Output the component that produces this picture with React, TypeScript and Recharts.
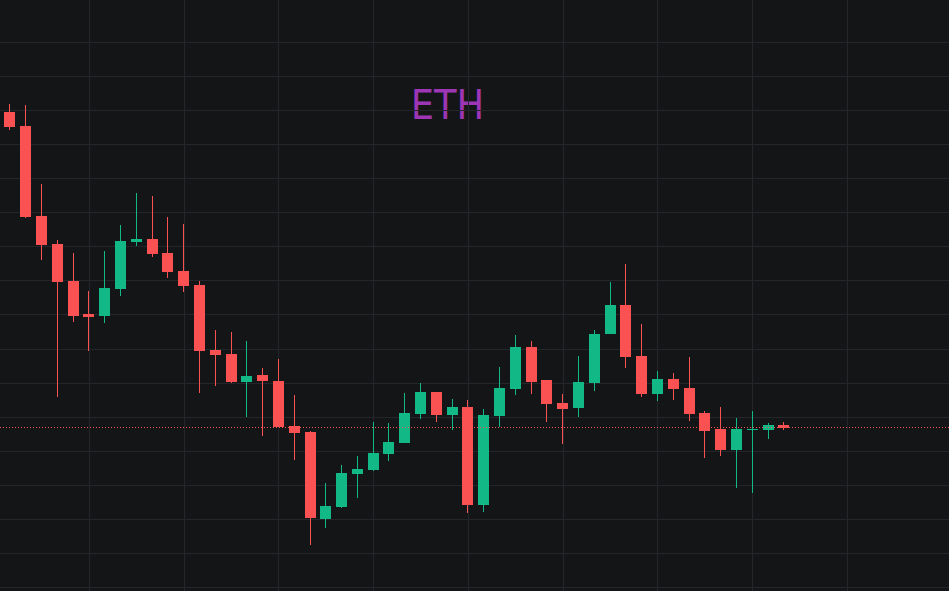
import React from 'react'
import { ComposedChart, Bar, XAxis, YAxis, CartesianGrid, ReferenceLine } from 'recharts'

// ETH daily candles (index = session)
const opens = [
    2447.8, 2427.3, 2295.2, 2254.1, 2199.8, 2151.4, 2148.9, 2188.5, 2257.5, 2261.4,
    2240.9, 2214.5, 2193.9, 2098.5, 2092.7, 2052.0, 2061.8, 2053.0, 1987.0, 1978.2,
    1851.0, 1868.6, 1917.0, 1922.9, 1946.3, 1962.5, 2005.0, 2036.9, 2003.6, 2014.9,
    1871.5, 2002.1, 2041.7, 2102.9, 2054.5, 2020.7, 2013.9, 2050.5, 2122.5, 2164.6,
    2089.7, 2034.4, 2056.0, 2042.8, 2006.1, 1982.6, 1952.2, 1982.2, 1981.6, 1988.5,
]
const highs = [
    2459.6, 2458.1, 2342.1, 2260.0, 2240.9, 2185.1, 2243.8, 2282.0, 2328.9, 2324.5,
    2293.7, 2283.4, 2199.8, 2127.9, 2124.9, 2111.7, 2072.1, 2085.3, 2032.5, 1979.7,
    1903.3, 1929.8, 1943.0, 1992.9, 1991.4, 2035.4, 2050.1, 2036.9, 2026.6, 2025.2,
    2011.9, 2073.6, 2120.5, 2111.7, 2054.5, 2034.0, 2089.7, 2127.9, 2198.3, 2224.7,
    2136.7, 2067.7, 2064.8, 2088.3, 2009.0, 2014.9, 1998.7, 2009.0, 1991.4, 1992.9,
]
const lows = [
    2421.8, 2292.7, 2231.1, 2030.0, 2140.1, 2097.5, 2138.6, 2178.2, 2251.6, 2235.5,
    2204.6, 2184.1, 2035.9, 2046.1, 2050.5, 2000.6, 1972.8, 1986.0, 1937.5, 1812.8,
    1837.7, 1867.1, 1881.8, 1921.4, 1936.1, 1962.5, 1997.7, 1993.3, 1981.6, 1859.8,
    1861.2, 1986.0, 2032.9, 2034.4, 1993.3, 1961.0, 2000.6, 2038.8, 2122.5, 2072.6,
    2030.0, 2024.1, 2025.6, 1994.8, 1940.5, 1943.4, 1896.4, 1889.1, 1968.4, 1981.6,
]
const closes = [
    2426.2, 2294.2, 2252.6, 2198.8, 2148.9, 2147.4, 2189.5, 2258.5, 2261.4, 2239.9,
    2213.4, 2192.9, 2097.5, 2091.6, 2052.0, 2060.4, 2053.5, 1986.0, 1977.2, 1852.4,
    1869.6, 1918.0, 1923.9, 1947.4, 1963.5, 2006.1, 2036.9, 2003.6, 2014.9, 1871.5,
    2003.1, 2042.8, 2102.9, 2052.0, 2019.7, 2012.4, 2051.6, 2122.0, 2164.6, 2088.7,
    2034.4, 2056.0, 2041.7, 2005.0, 1980.1, 1952.2, 1982.6, 1982.2, 1988.5, 1984.5,
]

const gridPrices = [2600, 2550, 2500, 2450, 2400, 2350, 2300, 2250, 2200, 2150, 2100, 2050, 2000, 1950, 1900, 1850, 1800, 1750]
const gridSessions = [5, 11, 17, 23, 29, 35, 41, 47, 53]

const UP = '#12b886'
const DOWN = '#fa5252'

const data = opens.map((o, i) => ({
    i,
    open: o,
    high: highs[i],
    low: lows[i],
    close: closes[i],
    range: [lows[i], highs[i]],
}))

const lastClose = closes[closes.length - 1]
const lastColor = closes[closes.length - 1] >= opens[opens.length - 1] ? UP : DOWN

function Candle(props: any) {
    const { x, y, width, height, payload } = props
    if (!payload) return null
    const { open, close, high, low } = payload
    const span = high - low
    const toY = (v: number) => (span === 0 ? y : y + ((high - v) / span) * height)
    const color = close >= open ? UP : DOWN
    const cx = x + width / 2
    const top = toY(Math.max(open, close))
    const bottom = toY(Math.min(open, close))
    const bodyH = Math.max(1, bottom - top)
    return (
        <g shapeRendering="crispEdges">
            <rect x={Math.round(cx - 0.5)} y={y} width={1} height={Math.max(1, height)} fill={color} />
            <rect x={Math.round(x)} y={top} width={Math.round(width)} height={bodyH} fill={color} />
        </g>
    )
}

export default function App() {
    return (
        <div style={{ position: 'fixed', left: 0, top: 0, width: 949, height: 591, background: '#141517' }}>
            <svg width={949} height={591} style={{ position: 'absolute', left: 0, top: 0 }}>
                <text
                    x={447.5}
                    y={118.5}
                    textAnchor="middle"
                    fill="#9c36b5"
                    fontSize={41}
                    fontFamily="'Liberation Sans Narrow', 'DejaVu Sans Condensed', sans-serif"
                >
                    ETH
                </text>
            </svg>
            <div style={{ position: 'absolute', left: 0, top: 0 }}>
                <ComposedChart width={949} height={591} data={data} margin={{ top: 0, right: 0, bottom: 0, left: 0 }}>
                    <XAxis dataKey="i" type="number" domain={[-0.652, 59.43]} allowDataOverflow hide />
                    <YAxis type="number" domain={[1744.85, 2612.18]} allowDataOverflow hide />
                    <CartesianGrid
                        stroke="#25262b"
                        shapeRendering="crispEdges"
                        horizontalValues={gridPrices}
                        verticalValues={gridSessions}
                    />
                    <Bar dataKey="range" barSize={11} shape={<Candle />} isAnimationActive={false} />
                    <ReferenceLine y={lastClose} stroke={lastColor} strokeDasharray="1 2" shapeRendering="crispEdges" />
                </ComposedChart>
            </div>
        </div>
    )
}
